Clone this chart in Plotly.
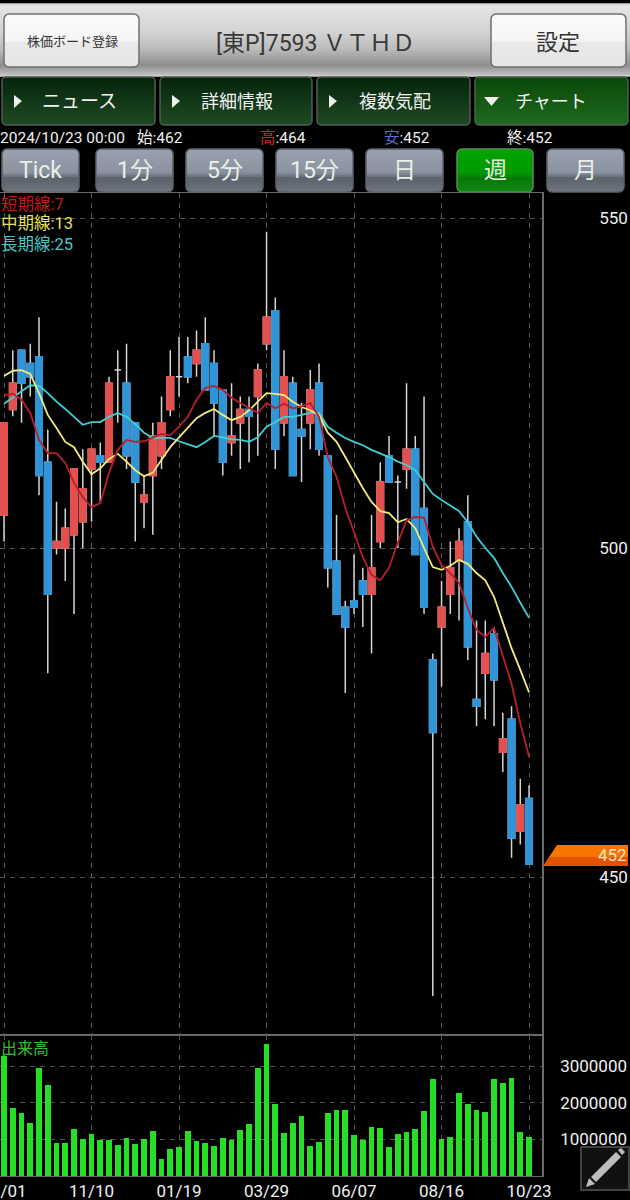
import math
import plotly.graph_objects as go

W = 630
H = 1200

# 週足 61本
tick_index = [0, 10, 20, 30, 40, 50, 60]
tick_dates = ['09/01', '11/10', '01/19', '03/29', '06/07', '08/16', '10/23']

opens = [505, 521, 530, 528, 529, 513, 500, 500, 502, 504, 512, 514, 513, 527, 525, 519, 507, 511, 514, 521,
         526, 529, 528, 531, 528, 524, 516, 519, 521, 523, 531, 536, 519, 525, 518, 519, 525, 514, 498, 491,
         492, 495, 493, 501, 514, 510, 512, 515, 506, 483, 488, 493, 498, 504, 477, 481, 487, 469, 474, 457, 462]
highs = [519, 530, 530, 531, 535, 518, 507, 506, 512, 515, 515, 516, 526, 530, 531, 519, 511, 519, 523, 530,
         532, 532, 533, 535, 530, 524, 525, 523, 523, 528, 548, 538, 530, 526, 522, 527, 528, 514, 505, 492,
         499, 497, 505, 513, 517, 511, 525, 517, 523, 484, 495, 501, 503, 508, 489, 489, 488, 475, 476, 465, 464]
lows = [501, 520, 519, 523, 508, 481, 499, 495, 490, 500, 504, 507, 513, 519, 512, 501, 503, 502, 512, 520,
        523, 525, 526, 524, 517, 511, 514, 512, 513, 514, 530, 512, 517, 511, 510, 515, 514, 494, 490, 478,
        490, 488, 484, 500, 510, 500, 509, 499, 490, 432, 479, 490, 489, 483, 473, 474, 473, 466, 453, 455, 452]
closes = [519, 525, 525, 526, 511, 493, 501, 503, 512, 509, 515, 513, 525, 527, 514, 510, 508, 517, 519, 526,
          526, 526, 530, 524, 522, 513, 517, 521, 520, 527, 535, 515, 526, 511, 517, 524, 515, 497, 490, 488,
          491, 493, 497, 510, 510, 510, 515, 499, 491, 472, 491, 497, 501, 485, 476, 484, 480, 471, 456, 461, 452]

ma_short = [523.2, 523.4, 522.5, 520.5, 516.4, 514.4, 514.4, 512.9, 509.9, 507.7, 506.2, 506.8, 511.4, 514.9, 516.4,
            516.1, 516.2, 516.8, 517.3, 517.1, 518.4, 519.9, 522.5, 524.3, 524.6, 524.0, 522.8, 522.0, 521.2, 520.5,
            522.0, 521.2, 521.9, 521.2, 521.5, 522.0, 519.9, 513.8, 510.8, 506.1, 502.4, 498.6, 495.9, 495.1, 497.0,
            500.8, 504.2, 504.7, 504.6, 500.2, 497.4, 496.2, 494.7, 490.9, 487.6, 486.5, 487.9, 483.8, 479.4, 473.4, 468.3]
ma_mid = [526.1, 526.9, 527.0, 526.4, 523.5, 520.2, 518.2, 516.1, 515.3, 513.1, 511.2, 512.1, 513.5, 514.3, 513.1,
          511.8, 510.9, 511.4, 513.4, 515.3, 516.8, 518.2, 519.7, 520.5, 521.1, 520.2, 519.4, 519.9, 520.9, 522.2,
          523.5, 523.4, 523.2, 522.2, 521.4, 520.9, 520.2, 517.5, 516.1, 513.8, 511.4, 509.1, 507.0, 505.6, 505.3,
          503.9, 504.4, 503.0, 500.0, 497.1, 496.7, 497.3, 498.2, 497.6, 496.2, 495.1, 492.6, 488.6, 484.8, 481.5, 478.1]
ma_long = [521.9, 522.9, 523.8, 524.7, 524.6, 523.5, 522.2, 521.1, 519.9, 518.7, 519.1, 519.1, 519.9, 520.5, 519.9,
           518.8, 517.5, 516.7, 516.7, 516.7, 516.2, 515.8, 515.3, 516.1, 517.0, 516.8, 516.5, 516.4, 516.1, 516.8,
           518.4, 519.1, 519.9, 519.9, 520.2, 520.5, 520.5, 518.4, 517.5, 516.7, 516.1, 515.6, 514.9, 514.4, 513.8,
           513.1, 512.6, 511.8, 510.0, 508.2, 507.3, 506.5, 505.6, 503.9, 501.7, 500.0, 498.5, 496.2, 494.1, 491.7, 489.4]

volumes = [3280000, 1870000, 1710000, 1460000, 2960000, 2490000, 910000, 910000, 1280000, 1000000, 1150000, 990000,
           970000, 840000, 1030000, 870000, 1000000, 1220000, 470000, 750000, 780000, 1220000, 960000, 910000, 810000,
           1030000, 990000, 1250000, 1430000, 2960000, 3600000, 1970000, 1180000, 1460000, 1650000, 820000, 940000,
           1710000, 1800000, 1800000, 1120000, 990000, 1340000, 1300000, 790000, 1150000, 1200000, 1280000, 1770000,
           2640000, 1000000, 1060000, 2280000, 1970000, 1800000, 1750000, 2660000, 2550000, 2680000, 1200000, 1060000]

price_ticks = [450, 500, 550]
volume_ticks = [1000000, 2000000, 3000000]

JP = 'Roboto, "Noto Sans CJK JP", sans-serif'
GRID = '#555555'
FRAME = '#6a6a6a'

x = list(range(len(closes)))
shapes = []
notes = []


def px(v):
    return v / W


def py(v):
    return 1 - v / H


def mix(c1, c2, t):
    a = [int(c1[i:i + 2], 16) for i in (1, 3, 5)]
    b = [int(c2[i:i + 2], 16) for i in (1, 3, 5)]
    return 'rgb(%d,%d,%d)' % tuple(round(a[i] + (b[i] - a[i]) * t) for i in range(3))


def stop_color(stops, t):
    for (t0, c0), (t1, c1) in zip(stops, stops[1:]):
        if t <= t1:
            return mix(c0, c1, (t - t0) / (t1 - t0) if t1 > t0 else 0)
    return stops[-1][1]


def rect(x0, y0, x1, y1, color):
    shapes.append(dict(type='rect', xref='paper', yref='paper', x0=px(x0), x1=px(x1), y0=py(y1), y1=py(y0),
                       fillcolor=color, line_width=0, layer='below'))


def poly(points, color, layer='above'):
    d = 'M' + 'L'.join(f'{px(a):.5f},{py(b):.5f}' for a, b in points) + 'Z'
    shapes.append(dict(type='path', xref='paper', yref='paper', path=d, fillcolor=color, line_width=0, layer=layer))


def button(x0, y0, x1, y1, stops, border, r=5):
    # 角丸の中を2pxずつ塗ってグラデーションにする
    y = y0
    while y < y1:
        mid = y + 1
        dy = min(mid - y0, y1 - mid)
        inset = r - math.sqrt(max(r * r - (r - dy) ** 2, 0)) if dy < r else 0
        rect(x0 + inset, y, x1 - inset, min(y + 2, y1), stop_color(stops, (mid - y0) / (y1 - y0)))
        y += 2
    k = 0.45 * r
    d = (f'M{px(x0 + r)},{py(y0)}L{px(x1 - r)},{py(y0)}'
         f'C{px(x1 - k)},{py(y0)} {px(x1)},{py(y0 + k)} {px(x1)},{py(y0 + r)}'
         f'L{px(x1)},{py(y1 - r)}C{px(x1)},{py(y1 - k)} {px(x1 - k)},{py(y1)} {px(x1 - r)},{py(y1)}'
         f'L{px(x0 + r)},{py(y1)}C{px(x0 + k)},{py(y1)} {px(x0)},{py(y1 - k)} {px(x0)},{py(y1 - r)}'
         f'L{px(x0)},{py(y0 + r)}C{px(x0)},{py(y0 + k)} {px(x0 + k)},{py(y0)} {px(x0 + r)},{py(y0)}Z')
    shapes.append(dict(type='path', xref='paper', yref='paper', path=d, line=dict(color=border, width=1.5), layer='below'))


def label(text, x0, y0, size, color, anchor='center'):
    notes.append(dict(text=text, x=px(x0), y=py(y0), xref='paper', yref='paper', xanchor=anchor, yanchor='middle',
                      showarrow=False, font=dict(family=JP, size=size, color=color), borderpad=0, borderwidth=0))


# 上のバー
HEAD = [(0, '#e6e6e6'), (0.4, '#d2d2d2'), (0.62, '#bcbcbc'), (0.85, '#8e8e8e'), (1, '#c4c4c4')]
button(-6, 4, W + 6, 76, HEAD, '#d0d0d0', r=1)
WHITE = [(0, '#fafafa'), (0.5, '#f6f6f6'), (0.55, '#e8e8e8'), (1, '#e6e6e6')]
button(4, 14, 139, 67, WHITE, '#707070')
button(491, 14, 626, 67, WHITE, '#707070')
label('株価ボード登録', 72, 41, 13, '#333333')
label('設定', 558, 42, 22, '#333333')
label('[東P]7593 ＶＴＨＤ', 315, 43, 23, '#383838')

# ニュース等のタブ
NAV = [(0, '#05240c'), (1, '#1f4a22')]
NAV_ON = [(0, '#0a4808'), (1, '#20691f')]
tabs = [(2, 155, 'ニュース', 79, 19), (160, 312, '詳細情報', 237, 18), (317, 470, '複数気配', 395, 18), (475, 628, 'チャート', 551, 18)]
for i, (a, b, name, tx, size) in enumerate(tabs):
    button(a, 77, b, 125, NAV_ON if i == 3 else NAV, '#4f5f50', r=4)
    label(name, tx, 101, size, '#f0f0f0')
    if i == 3:
        poly([(a + 9, 97), (a + 24, 97), (a + 16.5, 106)], '#f0f0f0')
    else:
        poly([(a + 12, 95), (a + 20, 101), (a + 12, 108)], '#f0f0f0')

# 四本値
label('2024/10/23 00:00', 0, 138, 15.5, '#f0f0f0', 'left')
label('始:462', 137, 138, 15.5, '#f0f0f0', 'left')
label('<span style="color:#d02828">高</span>:464', 260, 138, 15.5, '#f0f0f0', 'left')
label('<span style="color:#5a6ad8">安</span>:452', 384, 138, 15.5, '#f0f0f0', 'left')
label('終:452', 507, 138, 15.5, '#f0f0f0', 'left')

# 足種ボタン
PERIOD = [(0, '#9aa2b0'), (0.55, '#8a92a0'), (0.68, '#5c626b'), (1, '#70767f')]
PERIOD_ON = [(0, '#00a400'), (0.55, '#009a00'), (0.68, '#087808'), (1, '#0f8a12')]
periods = [('Tick', 2, 79), ('1分', 96, 173), ('5分', 186, 263), ('15分', 276, 353), ('日', 366, 443), ('週', 457, 533), ('月', 547, 624)]
for name, a, b in periods:
    on = name == '週'
    button(a, 149, b, 192, PERIOD_ON if on else PERIOD, '#5a8a5a' if on else '#5c626b')
    label(name, (a + b) / 2, 171, 23, '#e8f0e8')

label('短期線:7', 1, 204, 16.5, '#c01c1c', 'left')
label('中期線:13', 1, 224, 16.5, '#e6e060', 'left')
label('長期線:25', 1, 245, 16.5, '#45c8c8', 'left')
label('出来高', 1, 1048, 16, '#2cc02c', 'left')

# 現在値の旗
poly([(557, 845), (628, 845), (628, 857), (549, 857)], '#f77400')
poly([(549, 857), (628, 857), (628, 866), (543, 866)], '#e45200')
label('452', 627, 855, 17, '#ffe6cc', 'right')

# 鉛筆ボタン
shapes.append(dict(type='rect', xref='paper', yref='paper', x0=px(581), x1=px(629), y0=py(1190), y1=py(1147),
                   fillcolor='#111111', line=dict(color='#555555', width=1.5), layer='above'))
poly([(591, 1177), (616, 1152), (621, 1157), (596, 1182)], '#bdbdbd')
poly([(618, 1150), (621, 1148), (625, 1152), (622, 1155)], '#bdbdbd')
poly([(589, 1178), (595, 1184), (586, 1187)], '#bdbdbd')

# 本体だけの配列 (始値=終値の足は白い横線のまま)
body_x = [i for i in x if opens[i] != closes[i]]
body_open = [opens[i] for i in body_x]
body_close = [closes[i] for i in body_x]
body_high = [max(opens[i], closes[i]) for i in body_x]
body_low = [min(opens[i], closes[i]) for i in body_x]

fig = go.Figure()
fig.add_trace(go.Candlestick(
    x=x, open=opens, high=highs, low=lows, close=closes, whiskerwidth=0, hoverinfo='skip', showlegend=False,
    increasing=dict(line=dict(color='#d4d4d4', width=1.5), fillcolor='#d4d4d4'),
    decreasing=dict(line=dict(color='#d4d4d4', width=1.5), fillcolor='#d4d4d4')))
fig.add_trace(go.Candlestick(
    x=body_x, open=body_open, high=body_high, low=body_low, close=body_close, whiskerwidth=0, hoverinfo='skip', showlegend=False,
    increasing=dict(line=dict(color='#e4504f', width=1.5), fillcolor='#e4504f'),
    decreasing=dict(line=dict(color='#2f95d8', width=1.5), fillcolor='#2f95d8')))

fig.add_trace(go.Scatter(x=x, y=ma_long, mode='lines', line=dict(color='#3fcfd8', width=1.8), hoverinfo='skip', showlegend=False))
fig.add_trace(go.Scatter(x=x, y=ma_mid, mode='lines', line=dict(color='#f2ea7a', width=1.8), hoverinfo='skip', showlegend=False))
fig.add_trace(go.Scatter(x=x, y=ma_short, mode='lines', line=dict(color='#b81f2b', width=1.8), hoverinfo='skip', showlegend=False))

fig.add_trace(go.Bar(x=x, y=volumes, width=0.66, marker=dict(color='#25de25', line_width=0), xaxis='x2', yaxis='y2',
                     hoverinfo='skip', showlegend=False))

x_range = [-0.46, 61.48]
right = 542 / W
x_axis = dict(domain=[0, right], range=x_range, tickmode='array', tickvals=tick_index, showgrid=True, gridcolor=GRID,
              griddash='5px,5px', gridwidth=1, zeroline=False, showline=True, linecolor=FRAME, linewidth=1, mirror=True,
              ticks='')
y_axis = dict(side='right', showgrid=True, gridcolor=GRID, griddash='5px,5px', gridwidth=1, zeroline=False, showline=True,
              linecolor=FRAME, linewidth=1.5, ticks='', tickmode='array', tickcolor=FRAME,
              tickfont=dict(family=JP, size=17, color='#f0f0f0'))

fig.update_layout(
    width=W, height=H, margin=dict(l=0, r=0, t=0, b=0, autoexpand=False), paper_bgcolor='#000000', plot_bgcolor='rgba(0,0,0,0)',
    boxgap=0.26, boxgroupgap=0, boxmode='overlay', bargap=0, showlegend=False, shapes=shapes, annotations=notes,
    xaxis=dict(x_axis, anchor='y', showticklabels=False, rangeslider=dict(visible=False)),
    xaxis2=dict(x_axis, anchor='y2', showticklabels=True, ticktext=tick_dates, ticklabeloverflow='allow',
                tickfont=dict(family=JP, size=17, color='#f0f0f0'), ticklabelstandoff=0),
    yaxis=dict(y_axis, anchor='x', domain=[py(1035), py(193)], range=[426.1, 553.87], tickvals=price_ticks,
               ticklabelstandoff=52),
    yaxis2=dict(y_axis, anchor='x2', domain=[py(1176), py(1035)], range=[0, 3852000], tickvals=volume_ticks,
                tickformat='d', ticklabelstandoff=13),
)

fig.write_html("out.html", config={'displayModeBar': False}, post_script="document.body.style.margin='0';")
